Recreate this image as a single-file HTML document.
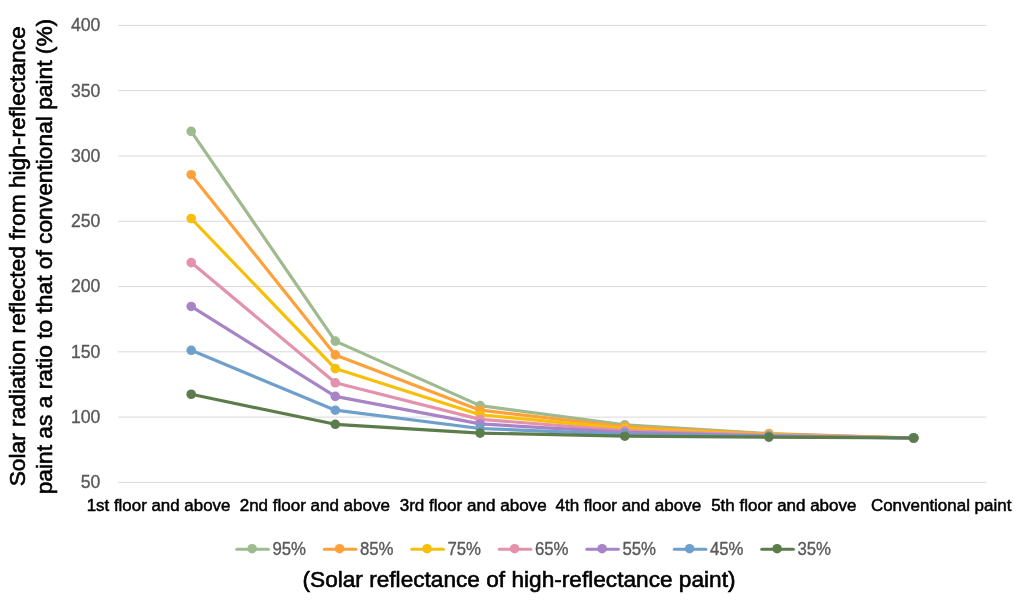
<!DOCTYPE html>
<html lang="en">
<head>
<meta charset="utf-8">
<title>Solar radiation reflected from high-reflectance paint</title>
<style>
html,body{margin:0;padding:0;background:#fff;}
body{width:1024px;height:605px;overflow:hidden;}
svg{display:block;}
text{font-family:"Liberation Sans", Arial, Helvetica, sans-serif;}
.tick{font-size:17.6px;fill:#595959;stroke:#595959;stroke-width:0.35px;}
.cat{font-size:16.7px;fill:#000;stroke:#000;stroke-width:0.5px;}
.ttl{font-size:22.6px;fill:#000;stroke:#000;stroke-width:0.6px;}
.leg{font-size:17.6px;fill:#595959;stroke:#595959;stroke-width:0.35px;}
</style>
</head>
<body>
<svg width="1024" height="605" viewBox="0 0 1024 605">
<rect x="0" y="0" width="1024" height="605" fill="#ffffff"/>
<g stroke="#D9D9D9" stroke-width="1" fill="none">
<line x1="118.2" y1="25.40" x2="986.3" y2="25.40"/>
<line x1="118.2" y1="90.69" x2="986.3" y2="90.69"/>
<line x1="118.2" y1="155.97" x2="986.3" y2="155.97"/>
<line x1="118.2" y1="221.26" x2="986.3" y2="221.26"/>
<line x1="118.2" y1="286.54" x2="986.3" y2="286.54"/>
<line x1="118.2" y1="351.83" x2="986.3" y2="351.83"/>
<line x1="118.2" y1="417.12" x2="986.3" y2="417.12"/>
<line x1="118.2" y1="482.40" x2="986.3" y2="482.40"/>
</g>
<g class="tick" text-anchor="end">
<text x="100.3" y="31.30">400</text>
<text x="100.3" y="96.59">350</text>
<text x="100.3" y="161.87">300</text>
<text x="100.3" y="227.16">250</text>
<text x="100.3" y="292.44">200</text>
<text x="100.3" y="357.73">150</text>
<text x="100.3" y="423.02">100</text>
<text x="100.3" y="488.30">50</text>
</g>
<g fill="#9FBA8F" stroke="none">
<polyline points="191.2,131.40 335.3,341.10 480.1,405.60 624.8,424.90 768.9,433.60 913.7,438.00" fill="none" stroke="#9FBA8F" stroke-width="3.2" stroke-linejoin="round" stroke-linecap="round"/>
<circle cx="191.2" cy="131.40" r="4.8"/>
<circle cx="335.3" cy="341.10" r="4.8"/>
<circle cx="480.1" cy="405.60" r="4.8"/>
<circle cx="624.8" cy="424.90" r="4.8"/>
<circle cx="768.9" cy="433.60" r="4.8"/>
<circle cx="913.7" cy="438.00" r="4.8"/>
</g>
<g fill="#FFA13A" stroke="none">
<polyline points="191.2,174.70 335.3,354.90 480.1,410.18 624.8,426.78 768.9,434.18 913.7,438.00" fill="none" stroke="#FFA13A" stroke-width="3.2" stroke-linejoin="round" stroke-linecap="round"/>
<circle cx="191.2" cy="174.70" r="4.8"/>
<circle cx="335.3" cy="354.90" r="4.8"/>
<circle cx="480.1" cy="410.18" r="4.8"/>
<circle cx="624.8" cy="426.78" r="4.8"/>
<circle cx="768.9" cy="434.18" r="4.8"/>
<circle cx="913.7" cy="438.00" r="4.8"/>
</g>
<g fill="#F7BF08" stroke="none">
<polyline points="191.2,218.50 335.3,368.60 480.1,414.77 624.8,428.67 768.9,434.77 913.7,438.00" fill="none" stroke="#F7BF08" stroke-width="3.2" stroke-linejoin="round" stroke-linecap="round"/>
<circle cx="191.2" cy="218.50" r="4.8"/>
<circle cx="335.3" cy="368.60" r="4.8"/>
<circle cx="480.1" cy="414.77" r="4.8"/>
<circle cx="624.8" cy="428.67" r="4.8"/>
<circle cx="768.9" cy="434.77" r="4.8"/>
<circle cx="913.7" cy="438.00" r="4.8"/>
</g>
<g fill="#E491AB" stroke="none">
<polyline points="191.2,262.60 335.3,382.80 480.1,419.35 624.8,430.55 768.9,435.35 913.7,438.00" fill="none" stroke="#E491AB" stroke-width="3.2" stroke-linejoin="round" stroke-linecap="round"/>
<circle cx="191.2" cy="262.60" r="4.8"/>
<circle cx="335.3" cy="382.80" r="4.8"/>
<circle cx="480.1" cy="419.35" r="4.8"/>
<circle cx="624.8" cy="430.55" r="4.8"/>
<circle cx="768.9" cy="435.35" r="4.8"/>
<circle cx="913.7" cy="438.00" r="4.8"/>
</g>
<g fill="#A684C5" stroke="none">
<polyline points="191.2,306.45 335.3,396.40 480.1,423.93 624.8,432.43 768.9,435.93 913.7,438.00" fill="none" stroke="#A684C5" stroke-width="3.2" stroke-linejoin="round" stroke-linecap="round"/>
<circle cx="191.2" cy="306.45" r="4.8"/>
<circle cx="335.3" cy="396.40" r="4.8"/>
<circle cx="480.1" cy="423.93" r="4.8"/>
<circle cx="624.8" cy="432.43" r="4.8"/>
<circle cx="768.9" cy="435.93" r="4.8"/>
<circle cx="913.7" cy="438.00" r="4.8"/>
</g>
<g fill="#6F9FCB" stroke="none">
<polyline points="191.2,350.30 335.3,410.20 480.1,428.52 624.8,434.32 768.9,436.52 913.7,438.00" fill="none" stroke="#6F9FCB" stroke-width="3.2" stroke-linejoin="round" stroke-linecap="round"/>
<circle cx="191.2" cy="350.30" r="4.8"/>
<circle cx="335.3" cy="410.20" r="4.8"/>
<circle cx="480.1" cy="428.52" r="4.8"/>
<circle cx="624.8" cy="434.32" r="4.8"/>
<circle cx="768.9" cy="436.52" r="4.8"/>
<circle cx="913.7" cy="438.00" r="4.8"/>
</g>
<g fill="#5C7C4B" stroke="none">
<polyline points="191.2,394.25 335.3,424.30 480.1,433.10 624.8,436.20 768.9,437.10 913.7,438.00" fill="none" stroke="#5C7C4B" stroke-width="3.2" stroke-linejoin="round" stroke-linecap="round"/>
<circle cx="191.2" cy="394.25" r="4.8"/>
<circle cx="335.3" cy="424.30" r="4.8"/>
<circle cx="480.1" cy="433.10" r="4.8"/>
<circle cx="624.8" cy="436.20" r="4.8"/>
<circle cx="768.9" cy="437.10" r="4.8"/>
<circle cx="913.7" cy="438.00" r="4.8"/>
</g>
<g class="cat">
<text x="86.70" y="511.3" textLength="143.70" lengthAdjust="spacingAndGlyphs">1st floor and above</text>
<text x="239.70" y="511.3" textLength="150.20" lengthAdjust="spacingAndGlyphs">2nd floor and above</text>
<text x="399.70" y="511.3" textLength="146.95" lengthAdjust="spacingAndGlyphs">3rd floor and above</text>
<text x="555.45" y="511.3" textLength="145.70" lengthAdjust="spacingAndGlyphs">4th floor and above</text>
<text x="711.20" y="511.3" textLength="145.20" lengthAdjust="spacingAndGlyphs">5th floor and above</text>
<text x="870.95" y="511.3" textLength="140.45" lengthAdjust="spacingAndGlyphs">Conventional paint</text>
</g>
<g>
<line x1="236.80" y1="549.2" x2="268.40" y2="549.2" stroke="#9FBA8F" stroke-width="3" stroke-linecap="round"/>
<circle cx="252.10" cy="548.7" r="4.75" fill="#9FBA8F"/>
<text class="leg" x="272.40" y="555" textLength="33.6" lengthAdjust="spacingAndGlyphs">95%</text>
<line x1="324.30" y1="549.2" x2="355.90" y2="549.2" stroke="#FFA13A" stroke-width="3" stroke-linecap="round"/>
<circle cx="339.60" cy="548.7" r="4.75" fill="#FFA13A"/>
<text class="leg" x="359.90" y="555" textLength="33.6" lengthAdjust="spacingAndGlyphs">85%</text>
<line x1="411.80" y1="549.2" x2="443.40" y2="549.2" stroke="#F7BF08" stroke-width="3" stroke-linecap="round"/>
<circle cx="427.10" cy="548.7" r="4.75" fill="#F7BF08"/>
<text class="leg" x="447.40" y="555" textLength="33.6" lengthAdjust="spacingAndGlyphs">75%</text>
<line x1="499.30" y1="549.2" x2="530.90" y2="549.2" stroke="#E491AB" stroke-width="3" stroke-linecap="round"/>
<circle cx="514.60" cy="548.7" r="4.75" fill="#E491AB"/>
<text class="leg" x="534.90" y="555" textLength="33.6" lengthAdjust="spacingAndGlyphs">65%</text>
<line x1="586.80" y1="549.2" x2="618.40" y2="549.2" stroke="#A684C5" stroke-width="3" stroke-linecap="round"/>
<circle cx="602.10" cy="548.7" r="4.75" fill="#A684C5"/>
<text class="leg" x="622.40" y="555" textLength="33.6" lengthAdjust="spacingAndGlyphs">55%</text>
<line x1="674.30" y1="549.2" x2="705.90" y2="549.2" stroke="#6F9FCB" stroke-width="3" stroke-linecap="round"/>
<circle cx="689.60" cy="548.7" r="4.75" fill="#6F9FCB"/>
<text class="leg" x="709.90" y="555" textLength="33.6" lengthAdjust="spacingAndGlyphs">45%</text>
<line x1="761.80" y1="549.2" x2="793.40" y2="549.2" stroke="#5C7C4B" stroke-width="3" stroke-linecap="round"/>
<circle cx="777.10" cy="548.7" r="4.75" fill="#5C7C4B"/>
<text class="leg" x="797.40" y="555" textLength="33.6" lengthAdjust="spacingAndGlyphs">35%</text>
</g>
<text class="ttl" x="302.5" y="586.8" textLength="433" lengthAdjust="spacingAndGlyphs">(Solar reflectance of high-reflectance paint)</text>
<text class="ttl" transform="translate(24.5 486.3) rotate(-90)" textLength="460" lengthAdjust="spacingAndGlyphs">Solar radiation reflected from high-reflectance</text>
<text class="ttl" transform="translate(52.1 494.3) rotate(-90)" textLength="475.5" lengthAdjust="spacingAndGlyphs">paint as a ratio to that of conventional paint (%)</text>
</svg>
</body>
</html>
